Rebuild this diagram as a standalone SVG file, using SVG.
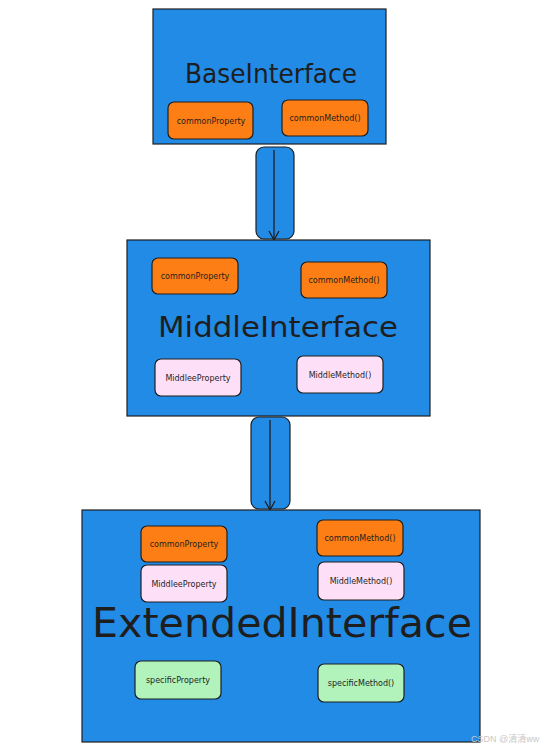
<svg xmlns="http://www.w3.org/2000/svg" width="546" height="751" viewBox="0 0 546 751">
<style>
.box{fill:#228be6;stroke:#1e1e1e;stroke-width:1.2}
.conn{fill:#228be6;stroke:#1e1e1e;stroke-width:1.2}
.o{fill:#fd7e14;stroke:#1e1e1e;stroke-width:1.2}
.p{fill:#fde0f7;stroke:#1e1e1e;stroke-width:1.2}
.g{fill:#b2f2bb;stroke:#1e1e1e;stroke-width:1.2}
.t{font-family:"DejaVu Sans","Liberation Sans",sans-serif;fill:#1e1e1e;text-anchor:middle}
.s{font-family:"DejaVu Sans","Liberation Sans",sans-serif;font-size:8px;fill:#1e1e1e;text-anchor:middle}
.arr{stroke:#1e1e1e;stroke-width:1.3;fill:none}
</style>
<defs>
<marker id="ah" markerWidth="12" markerHeight="12" refX="10" refY="6" orient="auto" markerUnits="userSpaceOnUse">
<path d="M1,1 L10,6 L1,11" class="arr"/>
</marker>
</defs>
<rect width="546" height="751" fill="#ffffff"/>
<g id="connectors">
<rect class="conn" x="256" y="147" width="38" height="92" rx="8"/>
<line class="arr" x1="274" y1="150" x2="274" y2="240" marker-end="url(#ah)"/>
<rect class="conn" x="251" y="417" width="39" height="92" rx="8"/>
<line class="arr" x1="270" y1="420" x2="270" y2="510" marker-end="url(#ah)"/>
</g>
<g id="BaseInterface">
<rect class="box" x="153" y="9" width="233" height="135"/>
<text class="t" x="271" y="83" font-size="27" textLength="172" lengthAdjust="spacingAndGlyphs">BaseInterface</text>
<g id="base-commonProperty"><rect class="o" x="168" y="102" width="85" height="37" rx="6"/><text class="s" x="211" y="124">commonProperty</text></g>
<g id="base-commonMethod"><rect class="o" x="282" y="100" width="86" height="36" rx="6"/><text class="s" x="325" y="121">commonMethod()</text></g>
</g>
<g id="MiddleInterface">
<rect class="box" x="127" y="240" width="303" height="176"/>
<text class="t" x="278" y="337" font-size="29" textLength="240" lengthAdjust="spacingAndGlyphs">MiddleInterface</text>
<g id="mid-commonProperty"><rect class="o" x="152" y="258" width="86" height="36" rx="6"/><text class="s" x="195" y="279">commonProperty</text></g>
<g id="mid-commonMethod"><rect class="o" x="301" y="262" width="86" height="36" rx="6"/><text class="s" x="344" y="283">commonMethod()</text></g>
<g id="mid-MiddleeProperty"><rect class="p" x="155" y="359" width="86" height="37" rx="6"/><text class="s" x="198" y="381">MiddleeProperty</text></g>
<g id="mid-MiddleMethod"><rect class="p" x="297" y="356" width="86" height="37" rx="6"/><text class="s" x="340" y="378">MiddleMethod()</text></g>
</g>
<g id="ExtendedInterface">
<rect class="box" x="82" y="510" width="398" height="232"/>
<text class="t" x="282" y="637" font-size="40" textLength="380" lengthAdjust="spacingAndGlyphs">ExtendedInterface</text>
<g id="ext-commonProperty"><rect class="o" x="141" y="526" width="86" height="36" rx="6"/><text class="s" x="184" y="547">commonProperty</text></g>
<g id="ext-commonMethod"><rect class="o" x="317" y="520" width="86" height="36" rx="6"/><text class="s" x="360" y="541">commonMethod()</text></g>
<g id="ext-MiddleeProperty"><rect class="p" x="141" y="565" width="86" height="37" rx="6"/><text class="s" x="184" y="587">MiddleeProperty</text></g>
<g id="ext-MiddleMethod"><rect class="p" x="318" y="562" width="86" height="38" rx="6"/><text class="s" x="361" y="584">MiddleMethod()</text></g>
<g id="ext-specificProperty"><rect class="g" x="135" y="661" width="86" height="38" rx="6"/><text class="s" x="178" y="683">specificProperty</text></g>
<g id="ext-specificMethod"><rect class="g" x="318" y="664" width="86" height="38" rx="6"/><text class="s" x="361" y="686">specificMethod()</text></g>
</g>
<text x="471" y="742" font-family="'Liberation Sans','Noto Sans CJK SC',sans-serif" font-size="9" fill="#c8c8c8">CSDN @清清ww</text>
</svg>
